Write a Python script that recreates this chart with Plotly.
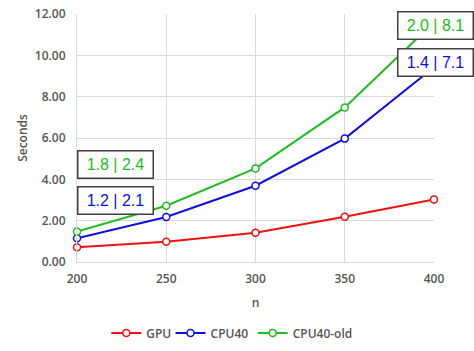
import plotly.graph_objects as go

n_values = [200, 250, 300, 350, 400]
gpu = [0.71, 0.98, 1.42, 2.19, 3.03]
cpu40 = [1.15, 2.18, 3.69, 5.97, 9.42]
cpu40_old = [1.47, 2.72, 4.53, 7.48, 11.6]
y_ticks = [0, 2, 4, 6, 8, 10, 12]
y_tick_labels = ["0.00", "2.00", "4.00", "6.00", "8.00", "10.00", "12.00"]

series = [
    ("GPU", gpu, "#ee1111", "legend", 0.082),
    ("CPU40", cpu40, "#1010dd", "legend2", 0.262),
    ("CPU40-old", cpu40_old, "#22bb22", "legend3", 0.492),
]

axis_font = dict(family="Open Sans", size=12, color="#555555", weight=600)

fig = go.Figure()
legend_layout = {}
for name, vals, color, leg, lx in series:
    fig.add_trace(go.Scatter(
        x=n_values, y=vals, name=name, mode="lines+markers",
        line=dict(color=color, width=2),
        marker=dict(symbol="circle", size=7, color="white",
                    line=dict(color=color, width=1.5)),
        cliponaxis=False, legend=leg,
    ))
    legend_layout[leg] = dict(
        orientation="h", x=lx, xanchor="left", y=-0.286, yanchor="middle",
        font=axis_font, itemwidth=30, bgcolor="rgba(0,0,0,0)",
    )

labels = [
    ("1.8 | 2.4", 0.108, 0.395, "#22bb22"),
    ("1.2 | 2.1", 0.108, 0.248, "#1010dd"),
    ("2.0 | 8.1", 1.003, 0.952, "#22bb22"),
    ("1.4 | 7.1", 1.003, 0.806, "#1010dd"),
]
for text, x, y, color in labels:
    fig.add_annotation(
        x=x, y=y, xref="paper", yref="paper", text=text, showarrow=False,
        xanchor="center", yanchor="middle",
        font=dict(family="Liberation Sans, Arial", size=16, color=color,
                  weight=400),
        bgcolor="white", bordercolor="#404040", borderwidth=1.5,
        borderpad=4, width=66, height=18,
    )

fig.update_layout(
    width=474, height=351,
    margin=dict(l=77, r=40, t=14, b=89, autoexpand=False),
    plot_bgcolor="white", paper_bgcolor="white",
    font=axis_font,
    showlegend=True,
    **legend_layout,
    xaxis=dict(
        range=[200, 400], tickvals=n_values, showgrid=True,
        gridcolor="#d9d9d9", gridwidth=1, zeroline=False,
        showline=True, linecolor="#d9d9d9", automargin=False,
        ticks="", tickfont=axis_font, ticklabelstandoff=6,
        title=dict(text="n", font=axis_font, standoff=12),
    ),
    yaxis=dict(
        range=[0, 12], tickvals=y_ticks, ticktext=y_tick_labels,
        showgrid=True, gridcolor="#d9d9d9", gridwidth=1, zeroline=False,
        showline=True, linecolor="#d9d9d9", automargin=False,
        ticks="", tickfont=axis_font, ticklabelstandoff=8,
        title=dict(text="Seconds", font=axis_font, standoff=4),
    ),
)

fig.write_html("out.html")
